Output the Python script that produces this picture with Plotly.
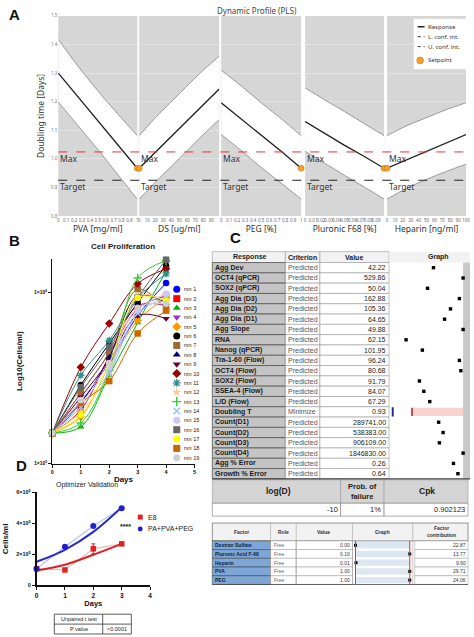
import plotly.graph_objects as go

W, H = 474, 637
def PX(x): return x / W
def PY(y): return 1 - y / H

# ---------------- Panel A data (Dynamic Profile, PLS) ----------------
A_NAMES = ["PVA [mg/ml]", "DS [ug/ml]", "PEG [%]", "Pluronic F68 [%]", "Heparin [ng/ml]"]
A_X = [
    [0, 0.25, 0.5, 0.75, 1],
    [0, 25, 50, 75, 100],
    [0, 0.25, 0.5, 0.75, 1],
    [0, 0.025, 0.05, 0.075, 0.1],
    [0, 25, 50, 75, 100],
]
A_RESP = [
    [1.300, 1.217, 1.133, 1.050, 0.967],
    [0.967, 1.036, 1.106, 1.175, 1.244],
    [1.196, 1.140, 1.081, 1.026, 0.967],
    [1.130, 1.088, 1.047, 1.008, 0.967],
    [0.967, 0.997, 1.026, 1.056, 1.085],
]
A_UPPER = [
    [1.418, 1.324, 1.238, 1.158, 1.081],
    [1.081, 1.158, 1.227, 1.297, 1.359],
    [1.310, 1.255, 1.196, 1.140, 1.081],
    [1.248, 1.206, 1.165, 1.123, 1.081],
    [1.081, 1.116, 1.144, 1.172, 1.196],
]
A_LOWER = [
    [1.199, 1.116, 1.033, 0.946, 0.859],
    [0.859, 0.932, 1.001, 1.071, 1.137],
    [1.085, 1.029, 0.970, 0.915, 0.859],
    [1.026, 0.984, 0.942, 0.901, 0.859],
    [0.859, 0.897, 0.928, 0.956, 0.981],
]
A_RANGES = [[0, 1], [0, 100], [0, 1], [0, 0.1], [0, 100]]
A_SET_X = [1, 0, 1, 0.1, 0]
A_SET_Y = 0.967
A_MAX = 1.024
A_TARGET = 0.925
A_YRANGE = [0.8, 1.5]
A_YTICKS = [0.8, 0.9, 1.0, 1.1, 1.2, 1.3, 1.4, 1.5]
A_XTICKS = [
    [0, 0.1, 0.2, 0.3, 0.4, 0.5, 0.6, 0.7, 0.8, 0.9, 1],
    [0, 10, 20, 30, 40, 50, 60, 70, 80, 90],
    [0, 0.1, 0.2, 0.3, 0.4, 0.5, 0.6, 0.7, 0.8, 0.9, 1],
    [0, 0.01, 0.02, 0.03, 0.04, 0.05, 0.06, 0.07, 0.08, 0.09],
    [0, 10, 20, 30, 40, 50, 60, 70, 80, 90, 100],
]
A_LEGEND = ["Response", "L. conf. int.", "U. conf. int.", "Setpoint"]

# ---------------- Panel B data (Cell Proliferation) ----------------
B_DAYS = [0, 1, 2, 3, 4]
B_NAMES = [f"rxn {i}" for i in range(1, 20)]
B_VALUES = [
    [1.51e5, 2.29e5, 3.92e5, 7.35e5, 1.14e6],
    [1.51e5, 2.06e5, 4.25e5, 8.07e5, 9.60e5],
    [1.51e5, 1.64e5, 3.29e5, 6.69e5, 1.34e6],
    [1.51e5, 2.59e5, 4.42e5, 8.40e5, 8.40e5],
    [1.51e5, 1.88e5, 3.76e5, 6.88e5, 9.35e5],
    [1.51e5, 2.88e5, 5.05e5, 8.75e5, 1.44e6],
    [1.51e5, 2.59e5, 4.48e5, 1.05e6, 8.07e5],
    [1.51e5, 2.26e5, 4.19e5, 9.60e5, 8.75e5],
    [1.51e5, 2.45e5, 4.02e5, 7.35e5, 7.06e5],
    [1.51e5, 3.66e5, 6.61e5, 1.13e6, 1.38e6],
    [1.51e5, 3.29e5, 5.26e5, 9.35e5, 1.29e6],
    [1.51e5, 2.01e5, 3.38e5, 9.60e5, 8.98e5],
    [1.51e5, 1.73e5, 3.52e5, 1.22e6, 1.54e6],
    [1.51e5, 2.14e5, 3.43e5, 7.55e5, 9.35e5],
    [1.51e5, 2.26e5, 3.66e5, 7.86e5, 9.87e5],
    [1.51e5, 2.80e5, 4.79e5, 9.35e5, 1.56e6],
    [1.51e5, 1.93e5, 3.87e5, 9.35e5, 8.98e5],
    [1.51e5, 2.26e5, 3.04e5, 5.78e5, 7.86e5],
    [1.51e5, 2.36e5, 3.87e5, 8.18e5, 8.63e5],
]
B_COLORS = ["#0000ff", "#ff0000", "#00b400", "#9933cc", "#ff9900", "#000000", "#9c6a2e",
            "#000080", "#660033", "#990000", "#2f8f8f", "#ffc89a", "#33cc33", "#8fc4ff",
            "#c8c8ff", "#666666", "#ffff00", "#cc6600", "#cfcfcf"]
B_SYMBOLS = ["circle", "square", "triangle-up", "triangle-down", "diamond", "circle", "square",
             "triangle-up", "triangle-down", "diamond", "asterisk-open", "star", "cross-thin-open",
             "x-thin-open", "circle", "square", "circle", "square", "circle"]

# ---------------- Panel C data (optimizer tables) ----------------
C_RESP = ["Agg Dev", "OCT4 (qPCR)", "SOX2 (qPCR)", "Agg Dia (D3)", "Agg Dia (D2)", "Agg Dia (D1)",
          "Agg Slope", "RNA", "Nanog (qPCR)", "Tra-1-60 (Flow)", "OCT4 (Flow)", "SOX2 (Flow)",
          "SSEA-4 (Flow)", "L/D (Flow)", "Doubling T", "Count(D1)", "Count(D2)", "Count(D3)",
          "Count(D4)", "Agg % Error", "Growth % Error"]
C_CRIT = ["Predicted"] * 14 + ["Minimize"] + ["Predicted"] * 6
C_VALUES = ["42.22", "529.86", "50.04", "162.88", "105.36", "64.65", "49.88", "62.15", "101.95",
            "96.24", "80.68", "91.79", "84.07", "67.29", "0.93", "289741.00", "538383.00",
            "906109.00", "1846830.00", "0.26", "0.64"]
C_GRAPH = [0.60, 1.00, 0.52, 0.95, 0.83, 0.75, 1.00, 0.23, 0.45, 0.95, 0.97, 0.41, 0.47, 0.55,
           None, 0.67, 0.73, 0.68, 1.00, 0.87, 0.93]
C_DT_MARK = 0.05
C_DT_LIMIT = 0.31
C_SUMMARY_HEAD = ["log(D)", "Prob. of<br>failure", "Cpk"]
C_SUMMARY_VAL = ["-10", "1%", "0.902123"]
F_NAMES = ["Dextran Sulfate", "Pluronic Acid F-68", "Heparin", "PVA", "PEG"]
F_ROLE = ["Free"] * 5
F_VALUES = [0.00, 0.10, 0.01, 1.00, 1.00]
F_HIGH = [0.1, 0.1, 1.0, 1.0, 1.0]
F_CONTRIB = ["22.87", "13.77", "9.60", "29.71", "24.06"]

# ---------------- Panel D data (Optimizer Validation) ----------------
D_DAYS = [0, 1, 2, 3]
D_E8 = [1.08e5, 1.00e5, 2.36e5, 2.68e5]
D_E8_ERR = [0, 0, 0.32e5, 0.08e5]
D_PA = [1.08e5, 2.49e5, 3.83e5, 4.98e5]
D_E8_FIT = [0.96e5, 1.34e5, 1.98e5, 2.68e5]
D_PA_FIT = [1.53e5, 2.30e5, 3.45e5, 5.04e5]
D_YTICKS = [0, 2e5, 4e5, 6e5]
D_YTEXT = ["0", "2×10<sup>5</sup>", "4×10<sup>5</sup>", "6×10<sup>5</sup>"]

# ================= helpers =================
ann, shapes = [], []
TF = "Liberation Sans Narrow, Liberation Sans, Arial"
JF = "Noto Sans, Open Sans, sans-serif"

def T(x, y, s, size=6, color="#222", xa="center", ya="middle", bold=False, family=None, angle=0):
    f = dict(size=size, color=color)
    if family:
        f["family"] = family
    ann.append(dict(x=PX(x), y=PY(y), xref="paper", yref="paper", text=f"<b>{s}</b>" if bold else s,
                    showarrow=False, xanchor=xa, yanchor=ya, font=f, textangle=angle, borderpad=0))

def R(x0, y0, x1, y1, fill=None, line="#888", lw=0.6, layer="below"):
    shapes.append(dict(type="rect", xref="paper", yref="paper", x0=PX(x0), x1=PX(x1), y0=PY(y1), y1=PY(y0),
                       fillcolor=fill or "rgba(0,0,0,0)", line=dict(color=line, width=lw), layer=layer))

def L(x0, y0, x1, y1, color="#888", lw=0.6, dash="solid", layer="above"):
    shapes.append(dict(type="line", xref="paper", yref="paper", x0=PX(x0), x1=PX(x1), y0=PY(y0), y1=PY(y1),
                       line=dict(color=color, width=lw, dash=dash), layer=layer))

fig = go.Figure()
layout = dict(width=W, height=H, margin=dict(l=0, r=0, t=0, b=0), autosize=False,
              paper_bgcolor="white", plot_bgcolor="rgba(0,0,0,0)", showlegend=False,
              font=dict(family="Liberation Sans, Arial", color="#222"))

# ================= Panel A =================
A_TOP, A_BOT = 13, 215
A_DOM = [(57, 137), (139, 220), (222, 303), (307, 387), (390, 470)]
def a_py(v):  # pixel row of a panel-A value (for text placement only)
    return A_BOT - (v - A_YRANGE[0]) / (A_YRANGE[1] - A_YRANGE[0]) * (A_BOT - A_TOP)

for i in range(5):
    xa = "x" if i == 0 else f"x{i+1}"
    key = "xaxis" if i == 0 else f"xaxis{i+1}"
    fig.add_trace(go.Scatter(x=A_X[i], y=A_LOWER[i], xaxis=xa, yaxis="y", mode="lines",
                             line=dict(color="#9a9a9a", width=1, shape="spline"), hoverinfo="skip"))
    fig.add_trace(go.Scatter(x=A_X[i], y=A_UPPER[i], xaxis=xa, yaxis="y", mode="lines", fill="tonexty",
                             fillcolor="white", line=dict(color="#9a9a9a", width=1, shape="spline"),
                             hoverinfo="skip"))
    fig.add_trace(go.Scatter(x=A_X[i], y=A_RESP[i], xaxis=xa, yaxis="y", mode="lines",
                             line=dict(color="#1f1f1f", width=1.3)))
    fig.add_trace(go.Scatter(x=[A_SET_X[i]], y=[A_SET_Y], xaxis=xa, yaxis="y", mode="markers",
                             cliponaxis=False,
                             marker=dict(color="#f0a030", size=6, line=dict(color="#c98010", width=0.6))))
    layout[key] = dict(domain=[PX(A_DOM[i][0]), PX(A_DOM[i][1])], anchor="y", range=A_RANGES[i],
                       tickvals=A_XTICKS[i], ticktext=[f"{v:g}" for v in A_XTICKS[i]], tickangle=0,
                       tickfont=dict(size=4.5, color="#666", family=JF), showgrid=False, zeroline=False,
                       showline=False, ticks="", ticklabelstandoff=1, ticklabeloverflow="allow",
                       title=dict(text=A_NAMES[i], font=dict(size=8.5, color="#333", family=JF), standoff=1))
    shapes.append(dict(type="rect", xref=f"{xa} domain", yref="y domain", x0=0, x1=1, y0=0, y1=1,
                       fillcolor="#d6d6d6", line=dict(width=0), layer="below"))
    T(A_DOM[i][0] + 1, a_py(A_MAX) + 7, "Max", size=8.5, color="#333", xa="left", family=JF)
    T(A_DOM[i][0] + 1, a_py(A_TARGET) + 6.5, "Target", size=8.5, color="#333", xa="left", family=JF)

layout["yaxis"] = dict(domain=[PY(A_BOT), PY(A_TOP)], anchor="x", range=A_YRANGE, tickvals=A_YTICKS,
                       ticktext=[f"{v:.1f}" for v in A_YTICKS], tickfont=dict(size=4.5, color="#777", family=JF),
                       showgrid=True, gridcolor="#e3e3e3", gridwidth=0.6, zeroline=False, ticks="",
                       title=dict(text="Doubling time [Days]", font=dict(size=8.5, color="#333", family=JF),
                                  standoff=4))
# max / target lines
shapes.append(dict(type="line", xref="paper", yref="y", x0=PX(57), x1=PX(470), y0=A_MAX, y1=A_MAX,
                   line=dict(color="#e0323c", width=1, dash="dash"), layer="above"))
shapes.append(dict(type="line", xref="paper", yref="y", x0=PX(57), x1=PX(470), y0=A_TARGET, y1=A_TARGET,
                   line=dict(color="#222", width=1, dash="dash"), layer="above"))
T(258, 8, "Dynamic Profile (PLS)", size=8, color="#444", family=JF)
T(13, 12, "A", size=15, bold=True, color="#111")
# legend A
R(417, 16, 473, 67, fill="white", line="white", lw=0, layer="above")
L(421, 24, 428, 24, color="#111", lw=1.4)
L(421, 34, 428, 34, color="#333", lw=1, dash="dot")
L(421, 44, 428, 44, color="#333", lw=1, dash="dot")
shapes.append(dict(type="circle", xref="paper", yref="paper", x0=PX(420), x1=PX(427), y0=PY(61.5), y1=PY(54.5),
                   fillcolor="#f0a030", line=dict(color="#c98010", width=0.6), layer="above"))
for k, yy in enumerate([24, 34, 44, 58]):
    T(430, yy, A_LEGEND[k], size=6, color="#333", xa="left", family=JF)

# ================= Panel B =================
for i in range(19):
    sym = B_SYMBOLS[i]
    open_sym = sym.endswith("-open")
    mk = dict(symbol=sym, size=6.5 if not open_sym else 6, color=B_COLORS[i],
              line=dict(color=B_COLORS[i], width=1.4 if open_sym else 0))
    fig.add_trace(go.Scatter(x=B_DAYS, y=B_VALUES[i], xaxis="x6", yaxis="y6", mode="lines+markers",
                             line=dict(color=B_COLORS[i], width=1, shape="spline", smoothing=1.0),
                             marker=mk, cliponaxis=False, name=B_NAMES[i]))
    # legend marker (manual legend)
    mk2 = dict(mk, size=mk["size"] + 0.5)
    fig.add_trace(go.Scatter(x=[177], y=[289 + i * 9.45], xaxis="x7", yaxis="y7", mode="markers",
                             marker=mk2, cliponaxis=False, hoverinfo="skip"))
    T(183, 289 + i * 9.45, B_NAMES[i], size=5.5, color="#222", xa="left")
layout["xaxis6"] = dict(domain=[PX(51), PX(195)], anchor="y6", range=[0, 5], tickvals=[0, 1, 2, 3, 4, 5],
                        ticktext=[f"<b>{v}</b>" for v in range(6)], tickfont=dict(size=5.5, color="#111"),
                        showline=True, linecolor="#111", linewidth=1.2, ticks="outside", ticklen=3,
                        tickcolor="#111", showgrid=False, zeroline=False,
                        title=dict(text="<b>Days</b>", font=dict(size=8, color="#111"), standoff=2))
layout["yaxis6"] = dict(domain=[PY(465), PY(258)], anchor="x6", type="log", range=[5, 6.2],
                        tickvals=[1e5, 1e6], ticktext=["<b>1×10<sup>5</sup></b>", "<b>1×10<sup>6</sup></b>"],
                        tickfont=dict(size=5, color="#111"), showline=True, linecolor="#111", linewidth=1.2,
                        ticks="outside", ticklen=3, tickcolor="#111", showgrid=False, zeroline=False,
                        title=dict(text="<b>Log10(Cells/ml)</b>", font=dict(size=8, color="#111"), standoff=10))
layout["xaxis7"] = dict(domain=[PX(170), PX(190)], range=[170, 190], anchor="y7", visible=False)
layout["yaxis7"] = dict(domain=[PY(464), PY(284)], range=[464, 284], anchor="x7", visible=False)
T(123, 246, "Cell Proliferation", size=8, bold=True)
T(13, 240, "B", size=15, bold=True, color="#111")

# ================= Panel C =================
T(236, 237, "C", size=15, bold=True, color="#111")
top, rh = 262, 10.4
# header
R(213, 251, 287, top, fill="#f2f2f2", line="#999")
R(287, 251, 322, top, fill="#f2f2f2", line="#999")
R(322, 251, 392, top, fill="#f2f2f2", line="#999")
R(392, 251, 474, top, fill="#f2f2f2", line="#f2f2f2", lw=0)
for s, xx in zip(["Response", "Criterion", "Value", "Graph"], [251, 304, 357, 442]):
    T(xx, 256.5, s, size=7, bold=True, family=TF)
R(467, top, 474, top + 21 * rh, fill="#c8c8c8", line="#c8c8c8", lw=0)
for r in range(21):
    y0 = top + r * rh
    y1 = y0 + rh
    yc = y0 + rh / 2
    R(213, y0, 287, y1, fill="#c4c4c4", line="#555", lw=0.8)
    R(287, y0, 322, y1, fill="white", line="#999")
    R(322, y0, 392, y1, fill="white", line="#999")
    T(215, yc, C_RESP[r], size=7, bold=True, xa="left", family=TF, color="#1a1a1a")
    T(289, yc, C_CRIT[r], size=7, xa="left", family=TF, color="#555")
    T(390, yc, C_VALUES[r], size=7, xa="right", family=TF, color="#222")
# graph squares via invisible axis
gx = [v for v in C_GRAPH if v is not None]
gy = [r + 0.5 for r, v in enumerate(C_GRAPH) if v is not None]
fig.add_trace(go.Scatter(x=gx, y=gy, xaxis="x8", yaxis="y8", mode="markers", cliponaxis=False,
                         marker=dict(symbol="square", size=3.4, color="#000")))
layout["xaxis8"] = dict(domain=[PX(392), PX(467)], range=[0, 1], anchor="y8", visible=False)
layout["yaxis8"] = dict(domain=[PY(top + 21 * rh), PY(top)], range=[21, 0], anchor="x8", visible=False)
dt = C_CRIT.index("Minimize")
shapes.append(dict(type="rect", xref="x8", yref="y8", x0=C_DT_LIMIT, x1=1, y0=dt + 0.1, y1=dt + 0.9,
                   fillcolor="#f9d2d2", line=dict(width=0), layer="below"))
shapes.append(dict(type="line", xref="x8", yref="y8", x0=C_DT_LIMIT, x1=C_DT_LIMIT, y0=dt + 0.1, y1=dt + 0.9,
                   line=dict(color="#c0504d", width=2), layer="above"))
shapes.append(dict(type="line", xref="x8", yref="y8", x0=C_DT_MARK, x1=C_DT_MARK, y0=dt + 0.05, y1=dt + 0.95,
                   line=dict(color="#1f2f8f", width=2), layer="above"))
# summary
sb = top + 21 * rh
L(213, sb, 474, sb, color="#444", lw=1.2)
R(213, sb + 1, 343, 505, fill="#d4d4d4", line="#999")
R(343, sb + 1, 387, 505, fill="#d4d4d4", line="#999")
R(387, sb + 1, 472, 505, fill="#d4d4d4", line="#999")
R(213, 505, 343, 518, fill="white", line="#777")
R(343, 505, 387, 518, fill="white", line="#777")
R(387, 505, 472, 518, fill="white", line="#777")
T(280, 493, C_SUMMARY_HEAD[0], size=8.5, bold=True, family=TF)
T(365, 493, C_SUMMARY_HEAD[1], size=7.5, bold=True, family=TF)
T(430, 493, C_SUMMARY_HEAD[2], size=8.5, bold=True, family=TF)
T(341, 511.5, C_SUMMARY_VAL[0], size=7.5, xa="right", family=TF)
T(385, 511.5, C_SUMMARY_VAL[1], size=7.5, xa="right", family=TF)
T(470, 511.5, C_SUMMARY_VAL[2], size=7.5, xa="right", family=TF)
# factor table
ft, fh = 543, 8.8
R(213, 525, 472, ft, fill="#f2f2f2", line="#777", lw=0.8)
for xx in [272, 298, 355, 416]:
    L(xx, 525, xx, ft + 5 * fh, color="#999", lw=0.5)
for s, xx in zip(["Factor", "Role", "Value", "Graph", "Factor<br>contribution"], [243, 285, 326, 385, 445]):
    T(xx, 534, s, size=5, bold=True, family=TF, color="#333")
for r in range(5):
    y0 = ft + r * fh
    y1 = y0 + fh
    yc = y0 + fh / 2
    R(213, y0, 272, y1, fill="#7ea7d8", line="#444", lw=0.6)
    R(272, y0, 298, y1, fill="white", line="#999", lw=0.5)
    R(298, y0, 355, y1, fill="white", line="#999", lw=0.5)
    R(358, y0 + 1.2, 413, y1 - 1.2, fill="#dde7f2", line="#dde7f2", lw=0)
    R(418, y0, 472, y1, fill="white", line="#999", lw=0.5)
    T(215, yc, F_NAMES[r], size=5, bold=True, xa="left", family=TF, color="#0d1f3c")
    T(274, yc, F_ROLE[r], size=5, xa="left", family=TF, color="#666")
    T(353, yc, f"{F_VALUES[r]:.2f}", size=5, xa="right", family=TF, color="#333")
    T(471, yc, F_CONTRIB[r], size=5, xa="right", family=TF, color="#333")
L(213, ft + 5 * fh, 472, ft + 5 * fh, color="#444", lw=0.8)
L(358, ft, 358, ft + 5 * fh, color="#e0323c", lw=1)
L(413, ft, 413, ft + 5 * fh, color="#e0323c", lw=1)
fig.add_trace(go.Scatter(x=[v / h for v, h in zip(F_VALUES, F_HIGH)], y=[r + 0.5 for r in range(5)],
                         xaxis="x9", yaxis="y9", mode="markers", cliponaxis=False,
                         marker=dict(symbol="square", size=3, color="#000")))
layout["xaxis9"] = dict(domain=[PX(358), PX(413)], range=[0, 1], anchor="y9", visible=False)
layout["yaxis9"] = dict(domain=[PY(ft + 5 * fh), PY(ft)], range=[5, 0], anchor="x9", visible=False)

# ================= Panel D =================
fig.add_trace(go.Scatter(x=D_DAYS, y=D_PA, xaxis="x10", yaxis="y10", mode="lines",
                         line=dict(color="#b8c4f0", width=1.2)))
fig.add_trace(go.Scatter(x=D_DAYS, y=D_E8, xaxis="x10", yaxis="y10", mode="lines",
                         line=dict(color="#f4b8b8", width=1.2)))
fig.add_trace(go.Scatter(x=D_DAYS, y=D_PA_FIT, xaxis="x10", yaxis="y10", mode="lines",
                         line=dict(color="#2a2acc", width=2, shape="spline")))
fig.add_trace(go.Scatter(x=D_DAYS, y=D_E8_FIT, xaxis="x10", yaxis="y10", mode="lines",
                         line=dict(color="#e02020", width=2, shape="spline")))
fig.add_trace(go.Scatter(x=D_DAYS, y=D_E8, xaxis="x10", yaxis="y10", mode="markers", cliponaxis=False,
                         error_y=dict(type="data", array=D_E8_ERR, color="#e02020", width=2, thickness=1),
                         marker=dict(symbol="square", size=5.5, color="#e02020")))
fig.add_trace(go.Scatter(x=D_DAYS, y=D_PA, xaxis="x10", yaxis="y10", mode="markers", cliponaxis=False,
                         marker=dict(symbol="circle", size=6, color="#1f1fd0")))
layout["xaxis10"] = dict(domain=[PX(35), PX(150)], anchor="y10", range=[0, 4], tickvals=[0, 1, 2, 3, 4],
                         ticktext=[f"<b>{v}</b>" for v in range(5)], tickfont=dict(size=6.5, color="#111"),
                         showline=True, linecolor="#111", linewidth=1.5, ticks="outside", ticklen=3,
                         tickcolor="#111", tickwidth=1.2, showgrid=False, zeroline=False,
                         title=dict(text="<b>Days</b>", font=dict(size=7.5, color="#111"), standoff=2))
layout["yaxis10"] = dict(domain=[PY(588), PY(494)], anchor="x10", range=[0, 6e5], tickvals=D_YTICKS,
                         ticktext=[f"<b>{t}</b>" for t in D_YTEXT], tickfont=dict(size=5.5, color="#111"),
                         showline=True, linecolor="#111", linewidth=1.5, ticks="outside", ticklen=3,
                         tickcolor="#111", tickwidth=1.2, showgrid=False, zeroline=False,
                         title=dict(text="<b>Cells/ml</b>", font=dict(size=8, color="#111"), standoff=6))
T(86, 487, "Optimizer Validation", size=7, color="#222")
T(20, 467, "D", size=15, bold=True, color="#111")
R(137.5, 516.5, 142.5, 521.5, fill="#e02020", line="#e02020", lw=0, layer="above")
shapes.append(dict(type="circle", xref="paper", yref="paper", x0=PX(137.5), x1=PX(142.5), y0=PY(533.5),
                   y1=PY(528.5), fillcolor="#1f1fd0", line=dict(width=0), layer="above"))
T(147, 519, "E8", size=7, xa="left", color="#222")
T(147, 531, "PA+PVA+PEG", size=7, xa="left", color="#222")
T(125, 528, "****", size=7, bold=True, color="#111")
R(53, 617, 131, 637, fill="white", line="#333", lw=0.8)
L(53, 627, 131, 627, color="#333", lw=0.8)
L(102, 617, 102, 637, color="#333", lw=0.8)
T(77.5, 622, "Unpaired t test", size=5.5, color="#222")
T(77.5, 632, "P value", size=5.5, color="#222")
T(116.5, 632, "&lt;0.0001", size=5.5, color="#222")

layout["annotations"] = ann
layout["shapes"] = shapes
fig.update_layout(**layout)
fig.write_html("out.html")
